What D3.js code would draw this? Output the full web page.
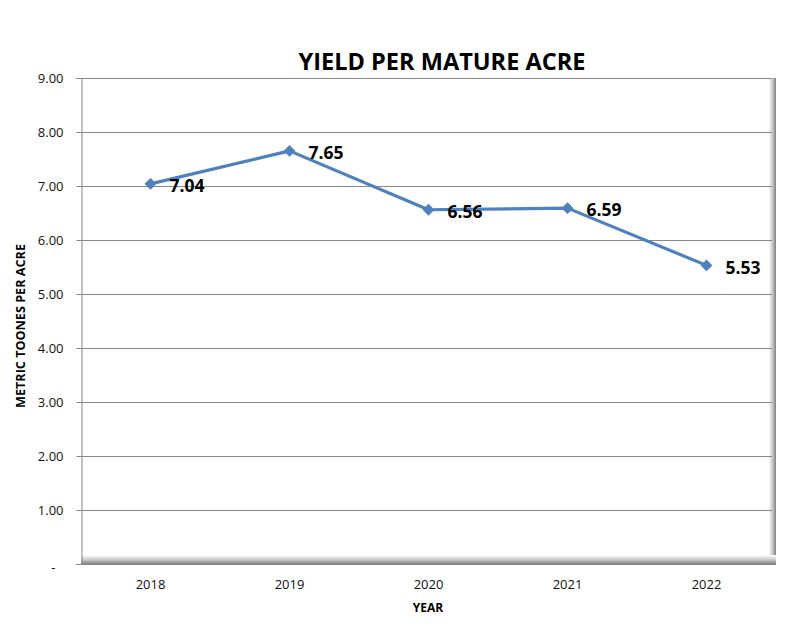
<!DOCTYPE html>
<html>
<head>
<meta charset="utf-8">
<script src="https://cdn.jsdelivr.net/npm/d3@7.9.0/dist/d3.min.js"></script>
<style>
  body { margin: 0; background: #fff; }
  svg { display: block; font-family: "Open Sans", sans-serif; }
</style>
</head>
<body>
<svg id="chart" width="800" height="633"></svg>
<script>
// chart data
const years = ['2018', '2019', '2020', '2021', '2022'];
const yieldValues = [7.04, 7.65, 6.56, 6.59, 5.53];
const yTicks = [0, 1, 2, 3, 4, 5, 6, 7, 8, 9];

const svg = d3.select('#chart');
const plot = { left: 81, right: 776, top: 78, bottom: 564 };

const x = d3.scaleBand().domain(years).range([plot.left, plot.right]);
const y = d3.scaleLinear().domain([0, 9]).range([plot.bottom, plot.top]);

// gradients for the 3D-ish wall and floor
const defs = svg.append('defs');
const wall = defs.append('linearGradient').attr('id', 'wall').attr('x1', 0).attr('x2', 1).attr('y1', 0).attr('y2', 0);
wall.append('stop').attr('offset', '0%').attr('stop-color', '#ffffff');
wall.append('stop').attr('offset', '55%').attr('stop-color', '#c0c0c0');
wall.append('stop').attr('offset', '100%').attr('stop-color', '#808080');
const floor = defs.append('linearGradient').attr('id', 'floor').attr('x1', 0).attr('x2', 0).attr('y1', 0).attr('y2', 1);
floor.append('stop').attr('offset', '0%').attr('stop-color', '#ffffff');
floor.append('stop').attr('offset', '55%').attr('stop-color', '#c8c8c8');
floor.append('stop').attr('offset', '100%').attr('stop-color', '#808080');

svg.append('rect')
  .attr('x', plot.right - 7).attr('y', plot.top)
  .attr('width', 7).attr('height', plot.bottom - plot.top)
  .attr('fill', 'url(#wall)');
svg.append('rect')
  .attr('x', plot.left).attr('y', plot.bottom - 9)
  .attr('width', plot.right - plot.left).attr('height', 9)
  .attr('fill', 'url(#floor)');

// horizontal gridlines
svg.append('g')
  .selectAll('line')
  .data(yTicks.filter(d => d > 0))
  .join('line')
  .attr('x1', plot.left).attr('x2', plot.right - 4)
  .attr('y1', d => Math.round(y(d)) + 0.5).attr('y2', d => Math.round(y(d)) + 0.5)
  .attr('stroke', '#878787').attr('stroke-width', 1);

// y axis
const yAxis = svg.append('g')
  .attr('transform', `translate(${plot.left + 0.5},0)`)
  .call(d3.axisLeft(y).tickValues(yTicks).tickSize(5).tickPadding(13)
    .tickFormat(d => d === 0 ? '-' : d3.format('.2f')(d)));
yAxis.select('.domain').attr('stroke', '#878787');
yAxis.selectAll('.tick line').attr('stroke', '#878787');
yAxis.selectAll('.tick text')
  .attr('font-size', 13).attr('fill', '#111').attr('font-family', '"Open Sans", sans-serif');
yAxis.selectAll('.tick').filter(d => d === 0).select('text').attr('dx', -8).attr('dy', '0.6em');

// bottom axis line
svg.append('line')
  .attr('x1', plot.left - 5).attr('x2', plot.right)
  .attr('y1', plot.bottom + 0.5).attr('y2', plot.bottom + 0.5)
  .attr('stroke', '#878787');

// x tick labels
svg.append('g')
  .selectAll('text')
  .data(years)
  .join('text')
  .attr('x', d => x(d) + x.bandwidth() / 2)
  .attr('y', 589)
  .attr('text-anchor', 'middle')
  .attr('font-size', 13).attr('fill', '#111')
  .text(d => d);

// line series
const pts = years.map((yr, i) => [x(yr) + x.bandwidth() / 2, y(yieldValues[i])]);
svg.append('path')
  .attr('d', d3.line()(pts))
  .attr('fill', 'none')
  .attr('stroke', '#4f81bd')
  .attr('stroke-width', 3.2)
  .attr('stroke-linejoin', 'round');

svg.append('g')
  .selectAll('path')
  .data(pts)
  .join('path')
  .attr('d', d3.symbol(d3.symbolDiamond2, 90)())
  .attr('transform', d => `translate(${d[0]},${d[1]})`)
  .attr('fill', '#4f81bd');

// data labels
svg.append('g')
  .selectAll('text')
  .data(pts)
  .join('text')
  .attr('x', d => d[0] + 19)
  .attr('y', d => d[1] + 2)
  .attr('dy', '0.36em')
  .attr('font-size', 17.5).attr('font-weight', 'bold').attr('fill', '#000')
  .text((d, i) => yieldValues[i].toFixed(2));

// title and axis titles
svg.append('text')
  .attr('x', 442).attr('y', 70)
  .attr('text-anchor', 'middle')
  .attr('font-size', 23).attr('font-weight', 'bold')
  .attr('textLength', 287).attr('lengthAdjust', 'spacingAndGlyphs')
  .text('YIELD PER MATURE ACRE');

svg.append('text')
  .attr('x', 428).attr('y', 612)
  .attr('text-anchor', 'middle')
  .attr('font-size', 12).attr('font-weight', 'bold')
  .text('YEAR');

svg.append('text')
  .attr('transform', 'translate(25,326) rotate(-90)')
  .attr('text-anchor', 'middle')
  .attr('font-size', 12).attr('font-weight', 'bold')
  .attr('textLength', 164).attr('lengthAdjust', 'spacingAndGlyphs')
  .text('METRIC TOONES PER ACRE');
</script>
</body>
</html>
